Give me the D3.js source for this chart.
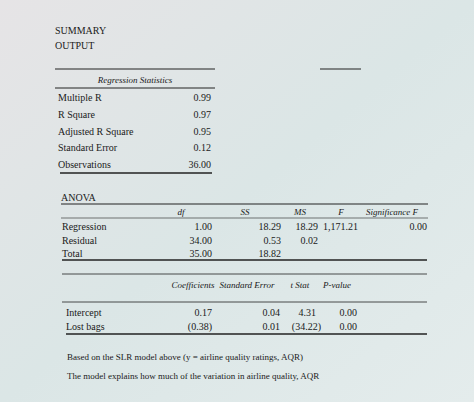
<!DOCTYPE html>
<html><head><meta charset="utf-8">
<script src="https://cdn.jsdelivr.net/npm/d3@7"></script>
<style>body{margin:0;} svg{display:block;}</style>
</head><body>
<svg id="c" width="474" height="402"></svg>
<script>
// regression output values
var statLabels = ["Multiple R", "R Square", "Adjusted R Square", "Standard Error", "Observations"];
var statValues = ["0.99", "0.97", "0.95", "0.12", "36.00"];

var anovaHeads = ["df", "SS", "MS", "F", "Significance F"];
var anovaRows = ["Regression", "Residual", "Total"];
var anovaDf = ["1.00", "34.00", "35.00"];
var anovaSS = ["18.29", "0.53", "18.82"];
var anovaMS = ["18.29", "0.02", ""];
var anovaF = ["1,171.21", "", ""];
var anovaSig = ["0.00", "", ""];

var coefHeads = ["Coefficients", "Standard Error", "t Stat", "P-value"];
var coefRows = ["Intercept", "Lost bags"];
var coefVal = ["0.17", "(0.38)"];
var coefSE = ["0.04", "0.01"];
var coefT = ["4.31", "(34.22)"];
var coefP = ["0.00", "0.00"];

var notes = ["Based on the SLR model above (y = airline quality ratings, AQR)",
             "The model explains how much of the variation in airline quality, AQR"];

var svg = d3.select("#c");
var defs = svg.append("defs");
var g = defs.append("linearGradient").attr("id", "bg").attr("x1", 0).attr("y1", 0).attr("x2", 1).attr("y2", 1);
g.append("stop").attr("offset", "0").attr("stop-color", "#e6e4e6");
g.append("stop").attr("offset", "0.5").attr("stop-color", "#dbe6e6");
g.append("stop").attr("offset", "1").attr("stop-color", "#e4ecec");
svg.append("rect").attr("width", 474).attr("height", 402).attr("fill", "url(#bg)");

var font = "Liberation Serif, Times New Roman, serif";
function txt(x, y, s, anchor, italic, size) {
  svg.append("text").attr("x", x).attr("y", y).text(s)
    .attr("text-anchor", anchor || "start")
    .attr("font-family", font).attr("font-size", size || 10)
    .attr("font-style", italic ? "italic" : "normal")
    .attr("fill", "#1a1a1a");
}
function line(x1, x2, y, w) {
  svg.append("line").attr("x1", x1).attr("x2", x2).attr("y1", y).attr("y2", y)
    .attr("stroke", "#222").attr("stroke-width", w || 1);
}

txt(55, 34, "SUMMARY");
txt(55, 49, "OUTPUT");

line(55, 215, 69); line(320, 361, 69, 1.2);
txt(135, 83, "Regression Statistics", "middle", true, 9);
line(55, 215, 88);
var ys = d3.scalePoint().domain(statLabels).range([101, 168]);
statLabels.forEach(function (l, i) {
  txt(58, ys(l), l);
  txt(211, ys(l), statValues[i], "end");
});
line(60, 212, 173, 1.3);

txt(61, 201, "ANOVA");
line(61, 428, 204);
var hx = [181, 245, 300, 341, 392];
anovaHeads.forEach(function (h, i) { txt(hx[i], 215, h, "middle", true, 9); });
line(61, 428, 218, 0.6);
var ya = d3.scalePoint().domain(anovaRows).range([230, 257]);
var cols = [[anovaDf, 212], [anovaSS, 281], [anovaMS, 318], [anovaF, 358], [anovaSig, 427]];
anovaRows.forEach(function (r, i) {
  txt(62, ya(r), r);
  cols.forEach(function (c) { if (c[0][i]) txt(c[1], ya(r), c[0][i], "end"); });
});
line(62, 427, 260, 1.4);
line(62, 427, 274, 0.8);
var cx = [193, 247, 300, 337];
coefHeads.forEach(function (h, i) { txt(cx[i], 288, h, "middle", true, 9); });
line(62, 427, 302, 0.8);
var yc = d3.scalePoint().domain(coefRows).range([316, 330]);
var ccols = [[coefVal, 212], [coefSE, 280], [coefT, 321], [coefP, 357]];
coefRows.forEach(function (r, i) {
  txt(66, yc(r), r);
  ccols.forEach(function (c) { txt(c[1] - (c[0] === coefT && i === 0 ? 5 : 0), yc(r), c[0][i], "end"); });
});
line(66, 427, 334, 1.3);

txt(67, 360, notes[0], "start", false, 9);
txt(67, 379, notes[1], "start", false, 9);
</script>
</body></html>
